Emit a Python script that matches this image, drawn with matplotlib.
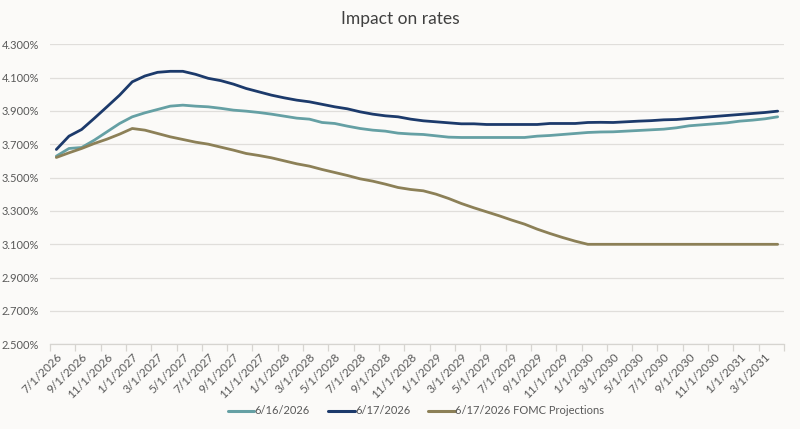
import matplotlib
matplotlib.use("Agg")
import matplotlib.pyplot as plt
import pandas as pd
from matplotlib.ticker import FuncFormatter, FixedLocator

dates = pd.date_range("2026-07-01", periods=58, freq="MS")
labels = [f"{d.month}/{d.day}/{d.year}" for d in dates]

series_0616 = [3.629, 3.675, 3.681, 3.725, 3.775, 3.825, 3.865, 3.889, 3.909, 3.929,
               3.935, 3.929, 3.925, 3.916, 3.905, 3.899, 3.891, 3.881, 3.869, 3.857,
               3.851, 3.831, 3.825, 3.809, 3.795, 3.785, 3.779, 3.767, 3.762, 3.759,
               3.751, 3.743, 3.741, 3.741, 3.741, 3.741, 3.741, 3.741, 3.749, 3.753,
               3.759, 3.765, 3.771, 3.774, 3.775, 3.779, 3.783, 3.787, 3.791, 3.799,
               3.811, 3.817, 3.823, 3.829, 3.839, 3.845, 3.853, 3.865]
series_0617 = [3.669, 3.749, 3.789, 3.856, 3.925, 3.995, 4.075, 4.110, 4.132, 4.138,
               4.138, 4.120, 4.096, 4.082, 4.061, 4.035, 4.015, 3.995, 3.979, 3.965,
               3.955, 3.940, 3.925, 3.913, 3.895, 3.881, 3.871, 3.865, 3.851, 3.841,
               3.835, 3.829, 3.823, 3.823, 3.819, 3.819, 3.819, 3.819, 3.819, 3.825,
               3.825, 3.825, 3.831, 3.832, 3.831, 3.835, 3.839, 3.842, 3.847, 3.849,
               3.855, 3.861, 3.867, 3.873, 3.879, 3.885, 3.891, 3.899]
series_fomc = [3.621, 3.649, 3.675, 3.705, 3.731, 3.761, 3.795, 3.785, 3.765, 3.745,
               3.729, 3.713, 3.701, 3.683, 3.665, 3.645, 3.633, 3.619, 3.601, 3.583,
               3.569, 3.549, 3.531, 3.513, 3.493, 3.479, 3.461, 3.441, 3.429, 3.421,
               3.401, 3.375, 3.345, 3.319, 3.295, 3.271, 3.245, 3.221, 3.191, 3.165,
               3.141, 3.119, 3.100, 3.100, 3.100, 3.100, 3.100, 3.100, 3.100, 3.100,
               3.100, 3.100, 3.100, 3.100, 3.100, 3.100, 3.100, 3.100]
series_names = ["6/16/2026", "6/17/2026", "6/17/2026 FOMC Projections"]
colors = ["#65a0a4", "#1c3a6b", "#8c8057"]

bg = "#fbfaf8"
plt.rcParams["font.family"] = ["Lato", "DejaVu Sans"]

fig = plt.figure(figsize=(8.0, 4.29), dpi=100, facecolor=bg)
ax = fig.add_axes([0.0625, 0.1974, 0.9175, 0.6993], facecolor=bg)

x = list(range(len(labels)))
for vals, name, c in zip([series_0616, series_0617, series_fomc], series_names, colors):
    ax.plot(x, vals, color=c, lw=2.0, label=name, solid_capstyle="round", solid_joinstyle="round")

ax.set_xlim(-0.5, len(labels) - 0.5)
ax.set_ylim(2.5, 4.3)
yt = [2.5 + 0.2 * k for k in range(10)]
ax.set_yticks(yt)
ax.yaxis.set_major_formatter(FuncFormatter(lambda v, p: f"{v:.3f}%"))
ax.grid(axis="y", color="#e0dedb", lw=0.9)
ax.set_axisbelow(True)
for s in ["top", "right", "left"]:
    ax.spines[s].set_visible(False)
ax.spines["bottom"].set_color("#d6d4d0")
ax.spines["bottom"].set_linewidth(0.9)
ax.tick_params(axis="y", length=0, labelsize=8, labelcolor="#595959", pad=8)

# tick marks between categories (every 2), labels at categories
ax.xaxis.set_major_locator(FixedLocator([-0.5 + 2 * k for k in range(30)]))
ax.xaxis.set_major_formatter(FuncFormatter(lambda v, p: ""))
ax.tick_params(axis="x", which="major", length=5, color="#d6d4d0", width=0.9)
lab_pos = x[::2]
ax.xaxis.set_minor_locator(FixedLocator(lab_pos))
ax.set_xticklabels([labels[i] for i in lab_pos], minor=True)
ax.tick_params(axis="x", which="minor", length=0, labelsize=8.5, labelcolor="#595959", pad=5)
for t in ax.get_xticklabels(minor=True):
    t.set_rotation(45)
    t.set_ha("right")
    t.set_va("top")
    t.set_rotation_mode("anchor")

fig.text(0.5, 0.955, "Impact on rates", ha="center", va="center", fontsize=12.5, color="#404040")

leg = fig.legend(loc="center", bbox_to_anchor=(0.52, 0.042), ncol=3, frameon=False,
                 fontsize=8, handlelength=2.4, handletextpad=0.05, columnspacing=1.6)
for t in leg.get_texts():
    t.set_color("#595959")
for h in leg.get_lines():
    h.set_linewidth(2.2)

fig.savefig("out.png", dpi=100, facecolor=bg)
